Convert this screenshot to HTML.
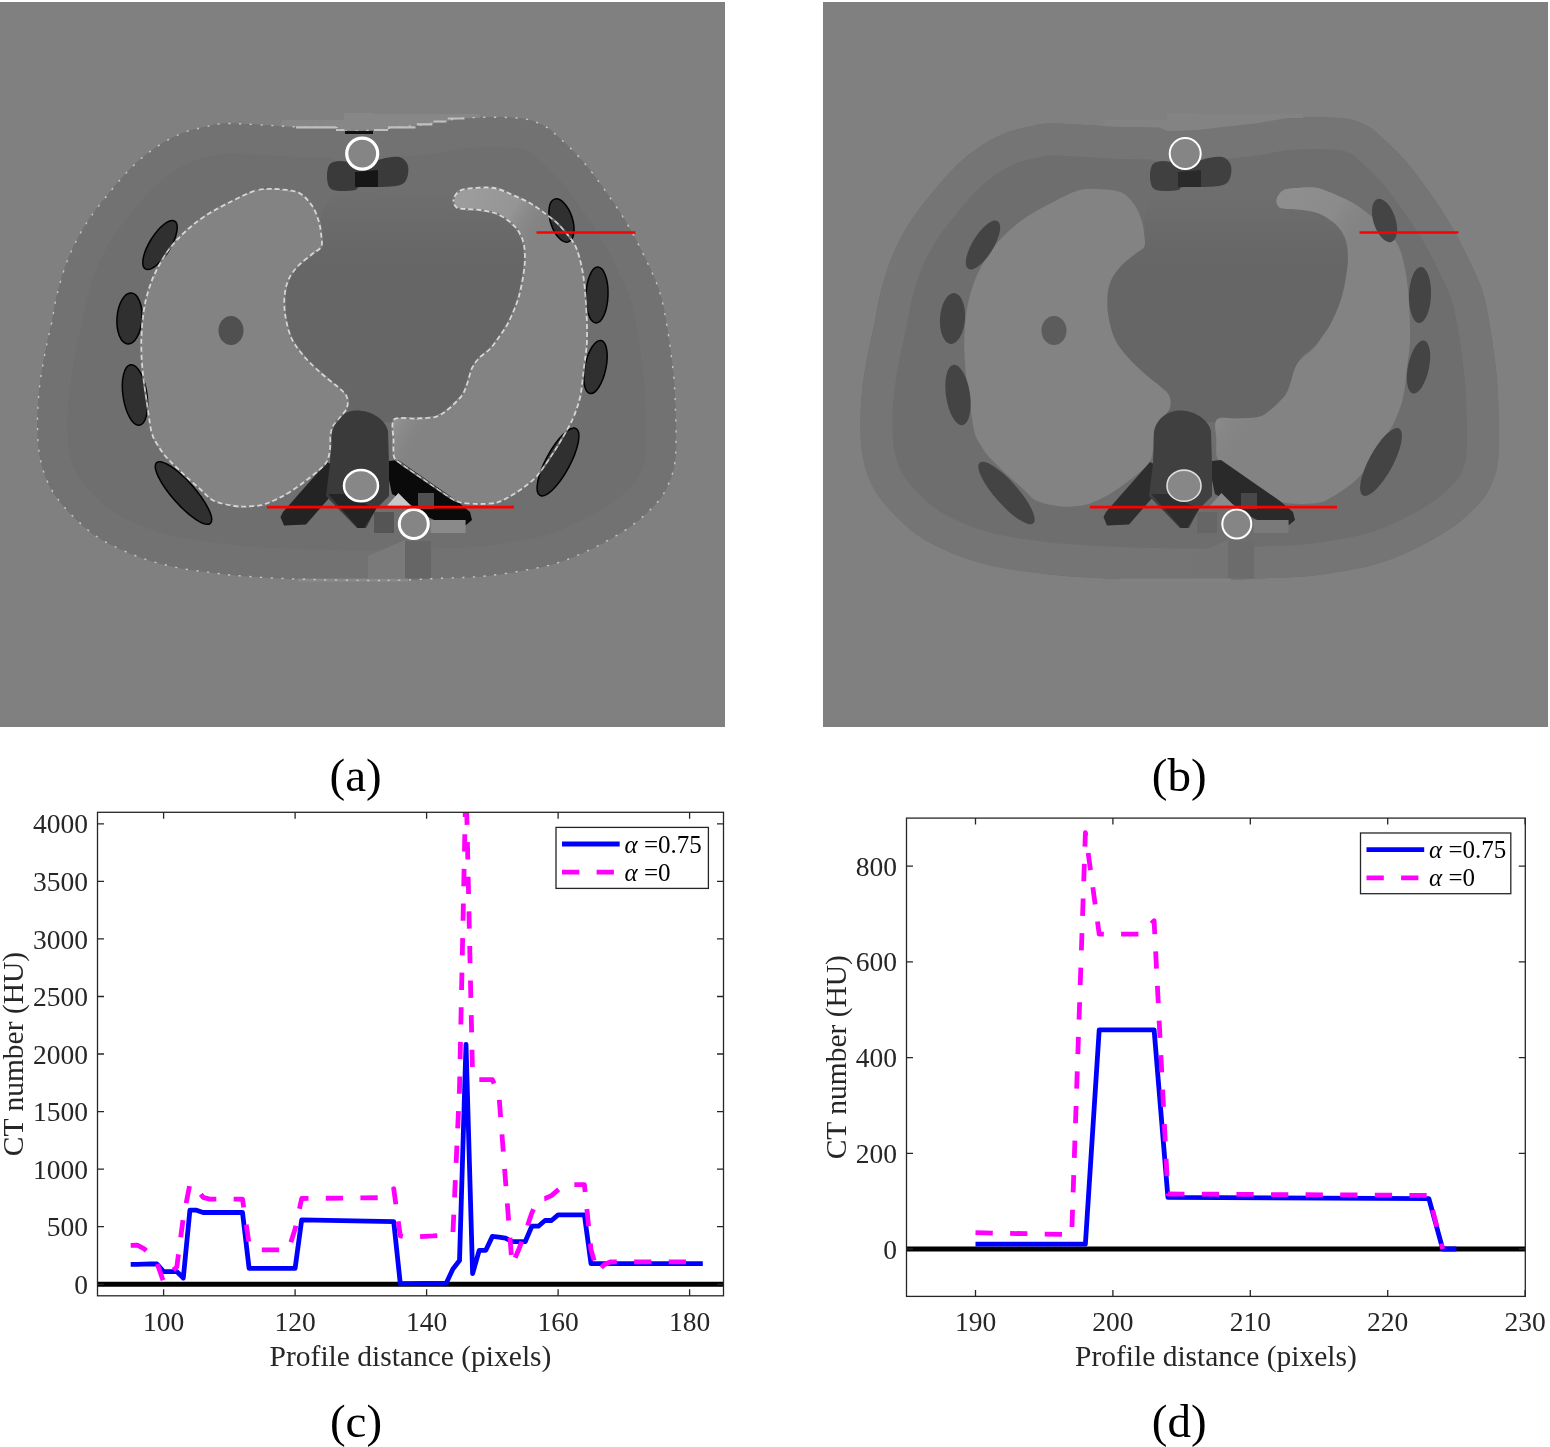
<!DOCTYPE html>
<html><head><meta charset="utf-8"><title>Figure</title>
<style>
html,body{margin:0;padding:0;background:#fff;}
body{width:1550px;height:1447px;overflow:hidden;position:relative;}
svg{position:absolute;left:0;top:0;display:block;}
text{font-family:"Liberation Serif","Times New Roman",serif;fill:#262626;}
.tk{font-size:27.5px;}
.al{font-size:29.5px;}
.lg{font-size:25px;fill:#000;}
.cap{font-size:47px;fill:#000;}
</style></head><body>
<svg width="1550" height="1447" viewBox="0 0 1550 1447">
<defs><clipPath id="bodyclip"><path d="M380,580.5C355.6,580.6 319.4,579.8 296.5,579C273.6,578.2 256.6,577.1 242.3,576C228,574.9 221.9,574.1 210.6,572.6C199.3,571.1 186.5,569.6 174.5,567C162.5,564.4 150.8,561.5 138.4,556.8C126,552.1 110.5,545.1 100,538.7C89.5,532.3 82.4,525.2 75.2,518.4C68,511.6 61.9,504.8 57,498C52.1,491.2 48.8,485.4 45.8,477.7C42.8,470 40.4,461.6 39,452C37.6,442.4 37.5,430 37.5,420C37.5,410 38.2,400.3 39,392C39.8,383.7 40.8,377.3 42,370C43.2,362.7 44.4,355.8 46,348C47.6,340.2 49.6,332.5 51.5,323.5C53.4,314.5 54.3,305.1 57.1,294.2C59.9,283.3 63.5,269.9 68.4,258C73.3,246.1 79.3,234.3 86.5,223C93.7,211.7 103.5,199.8 111.3,190.3C119,180.8 125.8,173 133,166C140.2,159 146.4,153.8 154.2,148.5C162,143.2 171.5,137.6 180,134C188.5,130.4 196.7,128.8 205,127C213.3,125.2 215.1,123.5 230,123.5C244.9,123.5 276.5,126.1 294.2,126.8C311.9,127.5 327.5,126.8 336,127.5C344.5,128.2 338.7,130.6 345,131C351.3,131.4 364.8,130.7 374,130C383.2,129.3 390.3,128.1 400,127C409.7,125.9 421.2,125 432,123.5C442.8,122 450.8,118.9 465,118C479.2,117.1 504.2,116.9 517,118C529.8,119.1 534.8,121.4 542,124.8C549.2,128.2 553.2,132.4 560,138.4C566.8,144.4 575.1,152.3 582.6,161C590.1,169.7 597.1,179 605,190.3C612.9,201.6 622.1,214.8 630,228.7C637.9,242.6 647.3,262.2 652.6,273.9C657.9,285.6 659.2,289.7 661.6,298.7C664,307.7 665.8,319.4 667.3,328C668.8,336.6 669.5,341.9 670.6,350.6C671.7,359.3 673.2,370.1 674,380C674.8,389.9 675.2,400 675.5,410C675.8,420 676.2,430.8 676,440C675.8,449.2 675.8,457.5 674.5,465C673.2,472.5 670.9,478.7 668,485C665.1,491.3 663,495.9 657,502.6C651,509.3 642.1,518.1 632.3,525.2C622.5,532.4 610.1,539.5 598.4,545.5C586.7,551.5 573.6,557.3 562.3,561.3C551,565.2 543.4,566.8 530.6,569.2C517.8,571.7 500.2,574.5 485.5,576C470.8,577.5 460.2,577.5 442.6,578.2C425,579 404.4,580.4 380,580.5Z"/></clipPath>
<linearGradient id="hgrad" gradientUnits="userSpaceOnUse" x1="0" y1="186" x2="0" y2="262"><stop offset="0" stop-color="#6f6f6f"/><stop offset="1" stop-color="#666666"/></linearGradient>
<linearGradient id="tipgrada" gradientUnits="userSpaceOnUse" x1="470" y1="195" x2="540" y2="235"><stop offset="0" stop-color="#9c9c9c"/><stop offset="0.55" stop-color="#959595"/><stop offset="1" stop-color="#838383" stop-opacity="0"/></linearGradient>
<linearGradient id="tipgradb" gradientUnits="userSpaceOnUse" x1="470" y1="195" x2="540" y2="235"><stop offset="0" stop-color="#8e8e8e"/><stop offset="0.55" stop-color="#8b8b8b"/><stop offset="1" stop-color="#838383" stop-opacity="0"/></linearGradient>
</defs>
<g transform="translate(0,0)">
<rect x="0" y="2" width="725" height="725" fill="#808080"/>
<path d="M380,580.5C355.6,580.6 319.4,579.8 296.5,579C273.6,578.2 256.6,577.1 242.3,576C228,574.9 221.9,574.1 210.6,572.6C199.3,571.1 186.5,569.6 174.5,567C162.5,564.4 150.8,561.5 138.4,556.8C126,552.1 110.5,545.1 100,538.7C89.5,532.3 82.4,525.2 75.2,518.4C68,511.6 61.9,504.8 57,498C52.1,491.2 48.8,485.4 45.8,477.7C42.8,470 40.4,461.6 39,452C37.6,442.4 37.5,430 37.5,420C37.5,410 38.2,400.3 39,392C39.8,383.7 40.8,377.3 42,370C43.2,362.7 44.4,355.8 46,348C47.6,340.2 49.6,332.5 51.5,323.5C53.4,314.5 54.3,305.1 57.1,294.2C59.9,283.3 63.5,269.9 68.4,258C73.3,246.1 79.3,234.3 86.5,223C93.7,211.7 103.5,199.8 111.3,190.3C119,180.8 125.8,173 133,166C140.2,159 146.4,153.8 154.2,148.5C162,143.2 171.5,137.6 180,134C188.5,130.4 196.7,128.8 205,127C213.3,125.2 215.1,123.5 230,123.5C244.9,123.5 276.5,126.1 294.2,126.8C311.9,127.5 327.5,126.8 336,127.5C344.5,128.2 338.7,130.6 345,131C351.3,131.4 364.8,130.7 374,130C383.2,129.3 390.3,128.1 400,127C409.7,125.9 421.2,125 432,123.5C442.8,122 450.8,118.9 465,118C479.2,117.1 504.2,116.9 517,118C529.8,119.1 534.8,121.4 542,124.8C549.2,128.2 553.2,132.4 560,138.4C566.8,144.4 575.1,152.3 582.6,161C590.1,169.7 597.1,179 605,190.3C612.9,201.6 622.1,214.8 630,228.7C637.9,242.6 647.3,262.2 652.6,273.9C657.9,285.6 659.2,289.7 661.6,298.7C664,307.7 665.8,319.4 667.3,328C668.8,336.6 669.5,341.9 670.6,350.6C671.7,359.3 673.2,370.1 674,380C674.8,389.9 675.2,400 675.5,410C675.8,420 676.2,430.8 676,440C675.8,449.2 675.8,457.5 674.5,465C673.2,472.5 670.9,478.7 668,485C665.1,491.3 663,495.9 657,502.6C651,509.3 642.1,518.1 632.3,525.2C622.5,532.4 610.1,539.5 598.4,545.5C586.7,551.5 573.6,557.3 562.3,561.3C551,565.2 543.4,566.8 530.6,569.2C517.8,571.7 500.2,574.5 485.5,576C470.8,577.5 460.2,577.5 442.6,578.2C425,579 404.4,580.4 380,580.5Z" fill="#6f6f6f"/>
<path d="M380,580.5C355.6,580.6 319.4,579.8 296.5,579C273.6,578.2 256.6,577.1 242.3,576C228,574.9 221.9,574.1 210.6,572.6C199.3,571.1 186.5,569.6 174.5,567C162.5,564.4 150.8,561.5 138.4,556.8C126,552.1 110.5,545.1 100,538.7C89.5,532.3 82.4,525.2 75.2,518.4C68,511.6 61.9,504.8 57,498C52.1,491.2 48.8,485.4 45.8,477.7C42.8,470 40.4,461.6 39,452C37.6,442.4 37.5,430 37.5,420C37.5,410 38.2,400.3 39,392C39.8,383.7 40.8,377.3 42,370C43.2,362.7 44.4,355.8 46,348C47.6,340.2 49.6,332.5 51.5,323.5C53.4,314.5 54.3,305.1 57.1,294.2C59.9,283.3 63.5,269.9 68.4,258C73.3,246.1 79.3,234.3 86.5,223C93.7,211.7 103.5,199.8 111.3,190.3C119,180.8 125.8,173 133,166C140.2,159 146.4,153.8 154.2,148.5C162,143.2 171.5,137.6 180,134C188.5,130.4 196.7,128.8 205,127C213.3,125.2 215.1,123.5 230,123.5C244.9,123.5 276.5,126.1 294.2,126.8C311.9,127.5 327.5,126.8 336,127.5C344.5,128.2 338.7,130.6 345,131C351.3,131.4 364.8,130.7 374,130C383.2,129.3 390.3,128.1 400,127C409.7,125.9 421.2,125 432,123.5C442.8,122 450.8,118.9 465,118C479.2,117.1 504.2,116.9 517,118C529.8,119.1 534.8,121.4 542,124.8C549.2,128.2 553.2,132.4 560,138.4C566.8,144.4 575.1,152.3 582.6,161C590.1,169.7 597.1,179 605,190.3C612.9,201.6 622.1,214.8 630,228.7C637.9,242.6 647.3,262.2 652.6,273.9C657.9,285.6 659.2,289.7 661.6,298.7C664,307.7 665.8,319.4 667.3,328C668.8,336.6 669.5,341.9 670.6,350.6C671.7,359.3 673.2,370.1 674,380C674.8,389.9 675.2,400 675.5,410C675.8,420 676.2,430.8 676,440C675.8,449.2 675.8,457.5 674.5,465C673.2,472.5 670.9,478.7 668,485C665.1,491.3 663,495.9 657,502.6C651,509.3 642.1,518.1 632.3,525.2C622.5,532.4 610.1,539.5 598.4,545.5C586.7,551.5 573.6,557.3 562.3,561.3C551,565.2 543.4,566.8 530.6,569.2C517.8,571.7 500.2,574.5 485.5,576C470.8,577.5 460.2,577.5 442.6,578.2C425,579 404.4,580.4 380,580.5Z" fill="none" stroke="#727272" stroke-width="60" clip-path="url(#bodyclip)"/>
<path d="M282,120 L344,120 L344,113 L374,113 L374,114 L480,114 L480,118 L465,118 L432,123.5 L400,127 L374,130 L345,131 L336,127.5 L294,126.8 L280,126Z" fill="#878787"/>
<path d="M321,235C324.5,227.8 318.7,221.5 321,215C323.3,208.5 328.5,199.8 335,196C341.5,192.2 349.2,192.5 360,192C370.8,191.5 386.7,192.5 400,193C413.3,193.5 430.3,194.2 440,195C449.7,195.8 453,196.3 458,198C463,199.7 463,202.7 470,205C477,207.3 491.7,207.8 500,212C508.3,216.2 515.3,222 520,230C524.7,238 527.3,250 528,260C528.7,270 526.7,280.3 524,290C521.3,299.7 516.8,309.3 512,318C507.2,326.7 501.2,334.7 495,342C488.8,349.3 479.8,354 475,362C470.2,370 470.2,382 466,390C461.8,398 455,405 450,410C445,415 445.3,418 436,420C426.7,422 408.3,421.7 394,422C379.7,422.3 359,425.7 350,422C341,418.3 345.8,407.3 340,400C334.2,392.7 323,386.3 315,378C307,369.7 297.8,361.3 292,350C286.2,338.7 281.3,322.5 280,310C278.7,297.5 280.7,283.7 284,275C287.3,266.3 293.8,264.7 300,258C306.2,251.3 317.5,242.2 321,235Z" fill="url(#hgrad)"/>
<path d="M255.8,190.3C264.4,187.9 271.2,188.8 278.4,189.2C285.5,189.6 293,189.8 298.7,192.6C304.4,195.4 308.9,201.1 312.3,206C315.7,210.9 317.5,217.1 319,222C320.5,226.9 320.9,231.4 321.3,235.5C321.7,239.6 322.8,243.7 321.3,246.8C319.8,249.9 316.2,250.8 312.3,254C308.4,257.2 302.1,261.6 298,266C293.9,270.4 290.2,275.5 288,280.6C285.8,285.7 284.9,290.5 284.5,296.5C284.1,302.5 284.2,309.7 285.5,316.8C286.8,323.9 288.7,332.5 292,339.4C295.3,346.3 300.5,352.2 305.5,358C310.5,363.8 316.6,369.2 322,374C327.4,378.8 333.9,383.3 338,387C342.1,390.7 345,392.5 346.5,396C348,399.5 347.9,404.7 347,408C346.1,411.3 343.3,413 341,416C338.7,419 334.8,422.8 333,426C331.2,429.2 331,431 330.5,435C330,439 330.8,445.3 330,450C329.2,454.7 329,458.7 326,463C323,467.3 318,471.2 312,476C306,480.8 296.2,488 290,492C283.8,496 279.6,497.9 275,500C270.4,502.1 267.1,503.7 262.6,504.8C258.1,505.9 252.7,506.3 248,506.5C243.3,506.7 240,506.9 234.3,506C228.6,505.1 219.3,503.6 213.6,500.8C207.9,498 204.6,493 200,489C195.4,485 190.2,480.4 186,476.6C181.8,472.8 178.5,469.4 175,466C171.5,462.6 168.2,459.7 165.2,456C162.2,452.3 159.3,448.1 157,444C154.7,439.9 153.2,439 151.4,431.7C149.7,424.4 148,410.3 146.5,400C145,389.7 143.4,380 142.5,370C141.6,360 141.1,349.7 141.3,340C141.5,330.3 142.3,320.3 143.5,312C144.7,303.7 146.3,297 148.5,290C150.7,283 152.9,277 156.5,270C160.1,263 164.9,254.7 170,248C175.1,241.3 181.2,235.3 187,230C192.8,224.7 198.4,220.3 205,216C211.6,211.7 218,208.2 226.5,203.9C235,199.6 247.2,192.8 255.8,190.3Z" fill="#838383"/>
<path d="M453.6,199.5C454.3,196.6 456.7,192.2 460.6,190.3C464.5,188.4 471.4,188.2 477,187.8C482.6,187.4 488.6,186.8 494.5,188C500.4,189.2 506.7,192.3 512.6,194.8C518.5,197.3 524.7,200 530,203C535.3,206 539.9,209.7 544.2,212.9C548.5,216.1 552.6,219 556,222C559.4,225 561.2,226.9 564.5,231C567.8,235.1 572.8,240 575.8,246.8C578.8,253.6 580.9,262.2 582.6,271.6C584.3,281 585.3,291.8 586,303.2C586.7,314.6 587.3,329.2 587,340C586.7,350.8 585.1,358.6 584,368C582.9,377.4 582,388.5 580.3,396.5C578.6,404.5 576.2,410.4 574,416C571.8,421.6 570.3,424.2 566.8,430.3C563.3,436.4 558.2,445.3 553.2,452.9C548.2,460.5 542.3,470 537,476C531.7,482 526.4,485.4 521.6,489C516.8,492.6 512.1,495.2 508,497.5C503.9,499.8 501.8,501.5 496.8,502.6C491.8,503.7 484.4,504.1 478,504C471.6,503.9 463.7,503.5 458.4,502C453.1,500.5 451.1,498.2 446,495C440.9,491.8 433.7,486.4 428,482.5C422.3,478.6 416.7,474.8 412,471.5C407.3,468.2 403,465.4 400,463C397,460.6 395.1,460.8 394,457C392.9,453.2 393.5,446.2 393.5,440C393.5,433.8 390.4,423.1 394,419.5C397.6,415.9 408,418.9 415,418.5C422,418.1 430.6,418.1 435.8,416.8C441,415.6 442.6,413.5 446,411C449.4,408.5 453.2,404.8 456,402C458.8,399.2 461.1,397.2 463,394C464.9,390.8 465.9,387.3 467.4,383C468.9,378.7 470.1,372.2 472,368C473.9,363.8 476,361.2 479,358C482,354.8 486.7,352.5 490,349C493.3,345.5 496.2,341 499,337C501.8,333 504.5,329.5 507,325C509.5,320.5 512,314.8 514,310C516,305.2 517.6,301 519,296C520.4,291 521.5,285.7 522.5,280C523.5,274.3 524.5,267.8 524.8,262C525,256.2 525,250 524,245C523,240 521.3,235.8 519,232C516.7,228.2 513.8,225.1 510,222C506.2,218.9 501,215.5 496,213.5C491,211.5 485.2,210.8 480,210C474.8,209.2 468.9,209.4 465,209C461.1,208.6 458.4,209.1 456.5,207.5C454.6,205.9 452.9,202.4 453.6,199.5Z" fill="#838383"/>
<path d="M453.6,199.5C454.3,196.6 456.7,192.2 460.6,190.3C464.5,188.4 471.4,188.2 477,187.8C482.6,187.4 488.6,186.8 494.5,188C500.4,189.2 506.7,192.3 512.6,194.8C518.5,197.3 524.7,200 530,203C535.3,206 539.9,209.7 544.2,212.9C548.5,216.1 552.6,219 556,222C559.4,225 561.2,226.9 564.5,231C567.8,235.1 572.8,240 575.8,246.8C578.8,253.6 580.9,262.2 582.6,271.6C584.3,281 585.3,291.8 586,303.2C586.7,314.6 587.3,329.2 587,340C586.7,350.8 585.1,358.6 584,368C582.9,377.4 582,388.5 580.3,396.5C578.6,404.5 576.2,410.4 574,416C571.8,421.6 570.3,424.2 566.8,430.3C563.3,436.4 558.2,445.3 553.2,452.9C548.2,460.5 542.3,470 537,476C531.7,482 526.4,485.4 521.6,489C516.8,492.6 512.1,495.2 508,497.5C503.9,499.8 501.8,501.5 496.8,502.6C491.8,503.7 484.4,504.1 478,504C471.6,503.9 463.7,503.5 458.4,502C453.1,500.5 451.1,498.2 446,495C440.9,491.8 433.7,486.4 428,482.5C422.3,478.6 416.7,474.8 412,471.5C407.3,468.2 403,465.4 400,463C397,460.6 395.1,460.8 394,457C392.9,453.2 393.5,446.2 393.5,440C393.5,433.8 390.4,423.1 394,419.5C397.6,415.9 408,418.9 415,418.5C422,418.1 430.6,418.1 435.8,416.8C441,415.6 442.6,413.5 446,411C449.4,408.5 453.2,404.8 456,402C458.8,399.2 461.1,397.2 463,394C464.9,390.8 465.9,387.3 467.4,383C468.9,378.7 470.1,372.2 472,368C473.9,363.8 476,361.2 479,358C482,354.8 486.7,352.5 490,349C493.3,345.5 496.2,341 499,337C501.8,333 504.5,329.5 507,325C509.5,320.5 512,314.8 514,310C516,305.2 517.6,301 519,296C520.4,291 521.5,285.7 522.5,280C523.5,274.3 524.5,267.8 524.8,262C525,256.2 525,250 524,245C523,240 521.3,235.8 519,232C516.7,228.2 513.8,225.1 510,222C506.2,218.9 501,215.5 496,213.5C491,211.5 485.2,210.8 480,210C474.8,209.2 468.9,209.4 465,209C461.1,208.6 458.4,209.1 456.5,207.5C454.6,205.9 452.9,202.4 453.6,199.5Z" fill="url(#tipgrada)"/>
<ellipse cx="231" cy="330.5" rx="12.5" ry="14.5" fill="#505050"/>
<ellipse cx="160" cy="245" rx="10.5" ry="28" transform="rotate(31.6 160 245)" fill="#303030" stroke="#000" stroke-width="1.5"/>
<ellipse cx="129.5" cy="318.5" rx="12.5" ry="25.5" transform="rotate(4 129.5 318.5)" fill="#303030" stroke="#000" stroke-width="1.5"/>
<ellipse cx="135" cy="395" rx="12" ry="30.5" transform="rotate(-8.4 135 395)" fill="#303030" stroke="#000" stroke-width="1.5"/>
<ellipse cx="183.5" cy="493" rx="11.5" ry="40.5" transform="rotate(-41.5 183.5 493)" fill="#303030" stroke="#000" stroke-width="1.5"/>
<ellipse cx="561.5" cy="220.5" rx="11" ry="22.5" transform="rotate(-18 561.5 220.5)" fill="#303030" stroke="#000" stroke-width="1.5"/>
<ellipse cx="597" cy="295" rx="11" ry="28" transform="rotate(2 597 295)" fill="#303030" stroke="#000" stroke-width="1.5"/>
<ellipse cx="595.5" cy="367" rx="10.5" ry="27" transform="rotate(12 595.5 367)" fill="#303030" stroke="#000" stroke-width="1.5"/>
<ellipse cx="558" cy="462" rx="12" ry="38" transform="rotate(28.4 558 462)" fill="#303030" stroke="#000" stroke-width="1.5"/>
<path d="M327,176C327,172 327.8,166.5 330,164C332.2,161.5 336.3,161.2 340,161C343.7,160.8 348.7,162.3 352,163C355.3,163.7 355.7,165.5 360,165C364.3,164.5 372.7,161.3 378,160C383.3,158.7 388,157.3 392,157C396,156.7 399.3,156.5 402,158C404.7,159.5 407.2,162.7 408,166C408.8,169.3 408.3,174.8 407,178C405.7,181.2 404.5,183.5 400,185C395.5,186.5 386.7,186.7 380,187C373.3,187.3 364.2,186.5 360,187C355.8,187.5 358.3,189.3 355,190C351.7,190.7 344.2,191.3 340,191C335.8,190.7 332.2,190.5 330,188C327.8,185.5 327,180 327,176Z" fill="#3a3a3a"/>
<path d="M355,172 L378,170 L378,187 L355,187Z" fill="#161616"/>
<circle cx="362.2" cy="153.6" r="15.5" fill="#858585" stroke="#fff" stroke-width="3.2"/>
<path d="M280.5,517 L283,512 L327,462 L335,466 L337,489 L306,524.5 L284,525.5Z" fill="#232323"/>
<path d="M389,461 L398,460 L457,501 L470,512 L472,520 L466,525 L446,525.5 L430,518 L408,503 L392,494 L389,480Z" fill="#0a0a0a"/>
<path d="M331,433 C332,421 343,410.6 357,410.6 C371,410.6 385,419 388,431 L389,464 L389,496 L376,509 L366,528 L357,528 L326,496 L330,464Z" fill="#3a3a3a"/>
<path d="M328.3,494 L346,494 L376,509 L364,528 L358,528Z" fill="#242424"/>
<path d="M398.4,493 L411,505.8 L387,505.8Z" fill="#c8c8c8"/>
<path d="M418,493 L434,493 L434,509 L418,509Z" fill="#505050"/>
<ellipse cx="361" cy="485.7" rx="17" ry="15.6" fill="#878787" stroke="#fff" stroke-width="2.5"/>
<rect x="374" y="512" width="20" height="21" fill="#555555"/>
<rect x="405" y="541" width="26" height="37.5" fill="#666666"/>
<path d="M368,556 L405,540 L405,578.5 L368,578.5Z" fill="#7a7a7a"/>
<rect x="430.6" y="520" width="35" height="13" fill="#8a8a8a"/>
<rect x="298" y="578.6" width="110" height="3" fill="#8a8a8a"/>
<circle cx="413.8" cy="524" r="14.5" fill="#858585" stroke="#fff" stroke-width="3"/>
<path d="M380,580.5C355.6,580.6 319.4,579.8 296.5,579C273.6,578.2 256.6,577.1 242.3,576C228,574.9 221.9,574.1 210.6,572.6C199.3,571.1 186.5,569.6 174.5,567C162.5,564.4 150.8,561.5 138.4,556.8C126,552.1 110.5,545.1 100,538.7C89.5,532.3 82.4,525.2 75.2,518.4C68,511.6 61.9,504.8 57,498C52.1,491.2 48.8,485.4 45.8,477.7C42.8,470 40.4,461.6 39,452C37.6,442.4 37.5,430 37.5,420C37.5,410 38.2,400.3 39,392C39.8,383.7 40.8,377.3 42,370C43.2,362.7 44.4,355.8 46,348C47.6,340.2 49.6,332.5 51.5,323.5C53.4,314.5 54.3,305.1 57.1,294.2C59.9,283.3 63.5,269.9 68.4,258C73.3,246.1 79.3,234.3 86.5,223C93.7,211.7 103.5,199.8 111.3,190.3C119,180.8 125.8,173 133,166C140.2,159 146.4,153.8 154.2,148.5C162,143.2 171.5,137.6 180,134C188.5,130.4 196.7,128.8 205,127C213.3,125.2 215.1,123.5 230,123.5C244.9,123.5 276.5,126.1 294.2,126.8C311.9,127.5 327.5,126.8 336,127.5C344.5,128.2 338.7,130.6 345,131C351.3,131.4 364.8,130.7 374,130C383.2,129.3 390.3,128.1 400,127C409.7,125.9 421.2,125 432,123.5C442.8,122 450.8,118.9 465,118C479.2,117.1 504.2,116.9 517,118C529.8,119.1 534.8,121.4 542,124.8C549.2,128.2 553.2,132.4 560,138.4C566.8,144.4 575.1,152.3 582.6,161C590.1,169.7 597.1,179 605,190.3C612.9,201.6 622.1,214.8 630,228.7C637.9,242.6 647.3,262.2 652.6,273.9C657.9,285.6 659.2,289.7 661.6,298.7C664,307.7 665.8,319.4 667.3,328C668.8,336.6 669.5,341.9 670.6,350.6C671.7,359.3 673.2,370.1 674,380C674.8,389.9 675.2,400 675.5,410C675.8,420 676.2,430.8 676,440C675.8,449.2 675.8,457.5 674.5,465C673.2,472.5 670.9,478.7 668,485C665.1,491.3 663,495.9 657,502.6C651,509.3 642.1,518.1 632.3,525.2C622.5,532.4 610.1,539.5 598.4,545.5C586.7,551.5 573.6,557.3 562.3,561.3C551,565.2 543.4,566.8 530.6,569.2C517.8,571.7 500.2,574.5 485.5,576C470.8,577.5 460.2,577.5 442.6,578.2C425,579 404.4,580.4 380,580.5Z" fill="none" stroke="#c4c4c4" stroke-width="1.4" stroke-dasharray="2.2 8.5"/>
<path d="M296,127.3 L336,127.3 M336,130 L344.5,130 M374,130 L388,130 M388,127.3 L415.5,127.3 M416.8,124.4 L432.3,124.4 M433.5,121.5 L446.5,121.5 M447.7,118.5 L464.5,118.5" stroke="#c0c0c0" stroke-width="2.2" fill="none"/>
<path d="M345,132.5 L373,132.5" stroke="#101010" stroke-width="3" fill="none"/>
<path d="M255.8,190.3C264.4,187.9 271.2,188.8 278.4,189.2C285.5,189.6 293,189.8 298.7,192.6C304.4,195.4 308.9,201.1 312.3,206C315.7,210.9 317.5,217.1 319,222C320.5,226.9 320.9,231.4 321.3,235.5C321.7,239.6 322.8,243.7 321.3,246.8C319.8,249.9 316.2,250.8 312.3,254C308.4,257.2 302.1,261.6 298,266C293.9,270.4 290.2,275.5 288,280.6C285.8,285.7 284.9,290.5 284.5,296.5C284.1,302.5 284.2,309.7 285.5,316.8C286.8,323.9 288.7,332.5 292,339.4C295.3,346.3 300.5,352.2 305.5,358C310.5,363.8 316.6,369.2 322,374C327.4,378.8 333.9,383.3 338,387C342.1,390.7 345,392.5 346.5,396C348,399.5 347.9,404.7 347,408C346.1,411.3 343.3,413 341,416C338.7,419 334.8,422.8 333,426C331.2,429.2 331,431 330.5,435C330,439 330.8,445.3 330,450C329.2,454.7 329,458.7 326,463C323,467.3 318,471.2 312,476C306,480.8 296.2,488 290,492C283.8,496 279.6,497.9 275,500C270.4,502.1 267.1,503.7 262.6,504.8C258.1,505.9 252.7,506.3 248,506.5C243.3,506.7 240,506.9 234.3,506C228.6,505.1 219.3,503.6 213.6,500.8C207.9,498 204.6,493 200,489C195.4,485 190.2,480.4 186,476.6C181.8,472.8 178.5,469.4 175,466C171.5,462.6 168.2,459.7 165.2,456C162.2,452.3 159.3,448.1 157,444C154.7,439.9 153.2,439 151.4,431.7C149.7,424.4 148,410.3 146.5,400C145,389.7 143.4,380 142.5,370C141.6,360 141.1,349.7 141.3,340C141.5,330.3 142.3,320.3 143.5,312C144.7,303.7 146.3,297 148.5,290C150.7,283 152.9,277 156.5,270C160.1,263 164.9,254.7 170,248C175.1,241.3 181.2,235.3 187,230C192.8,224.7 198.4,220.3 205,216C211.6,211.7 218,208.2 226.5,203.9C235,199.6 247.2,192.8 255.8,190.3Z" fill="none" stroke="#e6e6e6" stroke-width="1.8" stroke-opacity="0.85"/>
<path d="M255.8,190.3C264.4,187.9 271.2,188.8 278.4,189.2C285.5,189.6 293,189.8 298.7,192.6C304.4,195.4 308.9,201.1 312.3,206C315.7,210.9 317.5,217.1 319,222C320.5,226.9 320.9,231.4 321.3,235.5C321.7,239.6 322.8,243.7 321.3,246.8C319.8,249.9 316.2,250.8 312.3,254C308.4,257.2 302.1,261.6 298,266C293.9,270.4 290.2,275.5 288,280.6C285.8,285.7 284.9,290.5 284.5,296.5C284.1,302.5 284.2,309.7 285.5,316.8C286.8,323.9 288.7,332.5 292,339.4C295.3,346.3 300.5,352.2 305.5,358C310.5,363.8 316.6,369.2 322,374C327.4,378.8 333.9,383.3 338,387C342.1,390.7 345,392.5 346.5,396C348,399.5 347.9,404.7 347,408C346.1,411.3 343.3,413 341,416C338.7,419 334.8,422.8 333,426C331.2,429.2 331,431 330.5,435C330,439 330.8,445.3 330,450C329.2,454.7 329,458.7 326,463C323,467.3 318,471.2 312,476C306,480.8 296.2,488 290,492C283.8,496 279.6,497.9 275,500C270.4,502.1 267.1,503.7 262.6,504.8C258.1,505.9 252.7,506.3 248,506.5C243.3,506.7 240,506.9 234.3,506C228.6,505.1 219.3,503.6 213.6,500.8C207.9,498 204.6,493 200,489C195.4,485 190.2,480.4 186,476.6C181.8,472.8 178.5,469.4 175,466C171.5,462.6 168.2,459.7 165.2,456C162.2,452.3 159.3,448.1 157,444C154.7,439.9 153.2,439 151.4,431.7C149.7,424.4 148,410.3 146.5,400C145,389.7 143.4,380 142.5,370C141.6,360 141.1,349.7 141.3,340C141.5,330.3 142.3,320.3 143.5,312C144.7,303.7 146.3,297 148.5,290C150.7,283 152.9,277 156.5,270C160.1,263 164.9,254.7 170,248C175.1,241.3 181.2,235.3 187,230C192.8,224.7 198.4,220.3 205,216C211.6,211.7 218,208.2 226.5,203.9C235,199.6 247.2,192.8 255.8,190.3Z" fill="none" stroke="#2a2a2a" stroke-width="1.8" stroke-dasharray="3 5" stroke-opacity="0.55"/>
<path d="M453.6,199.5C454.3,196.6 456.7,192.2 460.6,190.3C464.5,188.4 471.4,188.2 477,187.8C482.6,187.4 488.6,186.8 494.5,188C500.4,189.2 506.7,192.3 512.6,194.8C518.5,197.3 524.7,200 530,203C535.3,206 539.9,209.7 544.2,212.9C548.5,216.1 552.6,219 556,222C559.4,225 561.2,226.9 564.5,231C567.8,235.1 572.8,240 575.8,246.8C578.8,253.6 580.9,262.2 582.6,271.6C584.3,281 585.3,291.8 586,303.2C586.7,314.6 587.3,329.2 587,340C586.7,350.8 585.1,358.6 584,368C582.9,377.4 582,388.5 580.3,396.5C578.6,404.5 576.2,410.4 574,416C571.8,421.6 570.3,424.2 566.8,430.3C563.3,436.4 558.2,445.3 553.2,452.9C548.2,460.5 542.3,470 537,476C531.7,482 526.4,485.4 521.6,489C516.8,492.6 512.1,495.2 508,497.5C503.9,499.8 501.8,501.5 496.8,502.6C491.8,503.7 484.4,504.1 478,504C471.6,503.9 463.7,503.5 458.4,502C453.1,500.5 451.1,498.2 446,495C440.9,491.8 433.7,486.4 428,482.5C422.3,478.6 416.7,474.8 412,471.5C407.3,468.2 403,465.4 400,463C397,460.6 395.1,460.8 394,457C392.9,453.2 393.5,446.2 393.5,440C393.5,433.8 390.4,423.1 394,419.5C397.6,415.9 408,418.9 415,418.5C422,418.1 430.6,418.1 435.8,416.8C441,415.6 442.6,413.5 446,411C449.4,408.5 453.2,404.8 456,402C458.8,399.2 461.1,397.2 463,394C464.9,390.8 465.9,387.3 467.4,383C468.9,378.7 470.1,372.2 472,368C473.9,363.8 476,361.2 479,358C482,354.8 486.7,352.5 490,349C493.3,345.5 496.2,341 499,337C501.8,333 504.5,329.5 507,325C509.5,320.5 512,314.8 514,310C516,305.2 517.6,301 519,296C520.4,291 521.5,285.7 522.5,280C523.5,274.3 524.5,267.8 524.8,262C525,256.2 525,250 524,245C523,240 521.3,235.8 519,232C516.7,228.2 513.8,225.1 510,222C506.2,218.9 501,215.5 496,213.5C491,211.5 485.2,210.8 480,210C474.8,209.2 468.9,209.4 465,209C461.1,208.6 458.4,209.1 456.5,207.5C454.6,205.9 452.9,202.4 453.6,199.5Z" fill="none" stroke="#e6e6e6" stroke-width="1.8" stroke-opacity="0.85"/>
<path d="M453.6,199.5C454.3,196.6 456.7,192.2 460.6,190.3C464.5,188.4 471.4,188.2 477,187.8C482.6,187.4 488.6,186.8 494.5,188C500.4,189.2 506.7,192.3 512.6,194.8C518.5,197.3 524.7,200 530,203C535.3,206 539.9,209.7 544.2,212.9C548.5,216.1 552.6,219 556,222C559.4,225 561.2,226.9 564.5,231C567.8,235.1 572.8,240 575.8,246.8C578.8,253.6 580.9,262.2 582.6,271.6C584.3,281 585.3,291.8 586,303.2C586.7,314.6 587.3,329.2 587,340C586.7,350.8 585.1,358.6 584,368C582.9,377.4 582,388.5 580.3,396.5C578.6,404.5 576.2,410.4 574,416C571.8,421.6 570.3,424.2 566.8,430.3C563.3,436.4 558.2,445.3 553.2,452.9C548.2,460.5 542.3,470 537,476C531.7,482 526.4,485.4 521.6,489C516.8,492.6 512.1,495.2 508,497.5C503.9,499.8 501.8,501.5 496.8,502.6C491.8,503.7 484.4,504.1 478,504C471.6,503.9 463.7,503.5 458.4,502C453.1,500.5 451.1,498.2 446,495C440.9,491.8 433.7,486.4 428,482.5C422.3,478.6 416.7,474.8 412,471.5C407.3,468.2 403,465.4 400,463C397,460.6 395.1,460.8 394,457C392.9,453.2 393.5,446.2 393.5,440C393.5,433.8 390.4,423.1 394,419.5C397.6,415.9 408,418.9 415,418.5C422,418.1 430.6,418.1 435.8,416.8C441,415.6 442.6,413.5 446,411C449.4,408.5 453.2,404.8 456,402C458.8,399.2 461.1,397.2 463,394C464.9,390.8 465.9,387.3 467.4,383C468.9,378.7 470.1,372.2 472,368C473.9,363.8 476,361.2 479,358C482,354.8 486.7,352.5 490,349C493.3,345.5 496.2,341 499,337C501.8,333 504.5,329.5 507,325C509.5,320.5 512,314.8 514,310C516,305.2 517.6,301 519,296C520.4,291 521.5,285.7 522.5,280C523.5,274.3 524.5,267.8 524.8,262C525,256.2 525,250 524,245C523,240 521.3,235.8 519,232C516.7,228.2 513.8,225.1 510,222C506.2,218.9 501,215.5 496,213.5C491,211.5 485.2,210.8 480,210C474.8,209.2 468.9,209.4 465,209C461.1,208.6 458.4,209.1 456.5,207.5C454.6,205.9 452.9,202.4 453.6,199.5Z" fill="none" stroke="#2a2a2a" stroke-width="1.8" stroke-dasharray="3 5" stroke-opacity="0.55"/>
<line x1="536.5" y1="232.5" x2="635.5" y2="232.5" stroke="#ff0000" stroke-width="2.6"/>
<line x1="267" y1="507.1" x2="514" y2="507.1" stroke="#ff0000" stroke-width="2.6"/>
</g>
<g transform="translate(823,0)">
<rect x="0" y="2" width="725" height="725" fill="#808080"/>
<path d="M380,580.5C355.6,580.6 319.4,579.8 296.5,579C273.6,578.2 256.6,577.1 242.3,576C228,574.9 221.9,574.1 210.6,572.6C199.3,571.1 186.5,569.6 174.5,567C162.5,564.4 150.8,561.5 138.4,556.8C126,552.1 110.5,545.1 100,538.7C89.5,532.3 82.4,525.2 75.2,518.4C68,511.6 61.9,504.8 57,498C52.1,491.2 48.8,485.4 45.8,477.7C42.8,470 40.4,461.6 39,452C37.6,442.4 37.5,430 37.5,420C37.5,410 38.2,400.3 39,392C39.8,383.7 40.8,377.3 42,370C43.2,362.7 44.4,355.8 46,348C47.6,340.2 49.6,332.5 51.5,323.5C53.4,314.5 54.3,305.1 57.1,294.2C59.9,283.3 63.5,269.9 68.4,258C73.3,246.1 79.3,234.3 86.5,223C93.7,211.7 103.5,199.8 111.3,190.3C119,180.8 125.8,173 133,166C140.2,159 146.4,153.8 154.2,148.5C162,143.2 171.5,137.6 180,134C188.5,130.4 196.7,128.8 205,127C213.3,125.2 215.1,123.5 230,123.5C244.9,123.5 276.5,126.1 294.2,126.8C311.9,127.5 327.5,126.8 336,127.5C344.5,128.2 338.7,130.6 345,131C351.3,131.4 364.8,130.7 374,130C383.2,129.3 390.3,128.1 400,127C409.7,125.9 421.2,125 432,123.5C442.8,122 450.8,118.9 465,118C479.2,117.1 504.2,116.9 517,118C529.8,119.1 534.8,121.4 542,124.8C549.2,128.2 553.2,132.4 560,138.4C566.8,144.4 575.1,152.3 582.6,161C590.1,169.7 597.1,179 605,190.3C612.9,201.6 622.1,214.8 630,228.7C637.9,242.6 647.3,262.2 652.6,273.9C657.9,285.6 659.2,289.7 661.6,298.7C664,307.7 665.8,319.4 667.3,328C668.8,336.6 669.5,341.9 670.6,350.6C671.7,359.3 673.2,370.1 674,380C674.8,389.9 675.2,400 675.5,410C675.8,420 676.2,430.8 676,440C675.8,449.2 675.8,457.5 674.5,465C673.2,472.5 670.9,478.7 668,485C665.1,491.3 663,495.9 657,502.6C651,509.3 642.1,518.1 632.3,525.2C622.5,532.4 610.1,539.5 598.4,545.5C586.7,551.5 573.6,557.3 562.3,561.3C551,565.2 543.4,566.8 530.6,569.2C517.8,571.7 500.2,574.5 485.5,576C470.8,577.5 460.2,577.5 442.6,578.2C425,579 404.4,580.4 380,580.5Z" fill="#6e6e6e"/>
<path d="M380,580.5C355.6,580.6 319.4,579.8 296.5,579C273.6,578.2 256.6,577.1 242.3,576C228,574.9 221.9,574.1 210.6,572.6C199.3,571.1 186.5,569.6 174.5,567C162.5,564.4 150.8,561.5 138.4,556.8C126,552.1 110.5,545.1 100,538.7C89.5,532.3 82.4,525.2 75.2,518.4C68,511.6 61.9,504.8 57,498C52.1,491.2 48.8,485.4 45.8,477.7C42.8,470 40.4,461.6 39,452C37.6,442.4 37.5,430 37.5,420C37.5,410 38.2,400.3 39,392C39.8,383.7 40.8,377.3 42,370C43.2,362.7 44.4,355.8 46,348C47.6,340.2 49.6,332.5 51.5,323.5C53.4,314.5 54.3,305.1 57.1,294.2C59.9,283.3 63.5,269.9 68.4,258C73.3,246.1 79.3,234.3 86.5,223C93.7,211.7 103.5,199.8 111.3,190.3C119,180.8 125.8,173 133,166C140.2,159 146.4,153.8 154.2,148.5C162,143.2 171.5,137.6 180,134C188.5,130.4 196.7,128.8 205,127C213.3,125.2 215.1,123.5 230,123.5C244.9,123.5 276.5,126.1 294.2,126.8C311.9,127.5 327.5,126.8 336,127.5C344.5,128.2 338.7,130.6 345,131C351.3,131.4 364.8,130.7 374,130C383.2,129.3 390.3,128.1 400,127C409.7,125.9 421.2,125 432,123.5C442.8,122 450.8,118.9 465,118C479.2,117.1 504.2,116.9 517,118C529.8,119.1 534.8,121.4 542,124.8C549.2,128.2 553.2,132.4 560,138.4C566.8,144.4 575.1,152.3 582.6,161C590.1,169.7 597.1,179 605,190.3C612.9,201.6 622.1,214.8 630,228.7C637.9,242.6 647.3,262.2 652.6,273.9C657.9,285.6 659.2,289.7 661.6,298.7C664,307.7 665.8,319.4 667.3,328C668.8,336.6 669.5,341.9 670.6,350.6C671.7,359.3 673.2,370.1 674,380C674.8,389.9 675.2,400 675.5,410C675.8,420 676.2,430.8 676,440C675.8,449.2 675.8,457.5 674.5,465C673.2,472.5 670.9,478.7 668,485C665.1,491.3 663,495.9 657,502.6C651,509.3 642.1,518.1 632.3,525.2C622.5,532.4 610.1,539.5 598.4,545.5C586.7,551.5 573.6,557.3 562.3,561.3C551,565.2 543.4,566.8 530.6,569.2C517.8,571.7 500.2,574.5 485.5,576C470.8,577.5 460.2,577.5 442.6,578.2C425,579 404.4,580.4 380,580.5Z" fill="none" stroke="#757575" stroke-width="64" clip-path="url(#bodyclip)"/>
<path d="M282,120 L344,120 L344,113 L374,113 L374,114 L480,114 L480,118 L465,118 L432,123.5 L400,127 L374,130 L345,131 L336,127.5 L294,126.8 L280,126Z" fill="#838383"/>
<path d="M321,235C324.5,227.8 318.7,221.5 321,215C323.3,208.5 328.5,199.8 335,196C341.5,192.2 349.2,192.5 360,192C370.8,191.5 386.7,192.5 400,193C413.3,193.5 430.3,194.2 440,195C449.7,195.8 453,196.3 458,198C463,199.7 463,202.7 470,205C477,207.3 491.7,207.8 500,212C508.3,216.2 515.3,222 520,230C524.7,238 527.3,250 528,260C528.7,270 526.7,280.3 524,290C521.3,299.7 516.8,309.3 512,318C507.2,326.7 501.2,334.7 495,342C488.8,349.3 479.8,354 475,362C470.2,370 470.2,382 466,390C461.8,398 455,405 450,410C445,415 445.3,418 436,420C426.7,422 408.3,421.7 394,422C379.7,422.3 359,425.7 350,422C341,418.3 345.8,407.3 340,400C334.2,392.7 323,386.3 315,378C307,369.7 297.8,361.3 292,350C286.2,338.7 281.3,322.5 280,310C278.7,297.5 280.7,283.7 284,275C287.3,266.3 293.8,264.7 300,258C306.2,251.3 317.5,242.2 321,235Z" fill="url(#hgrad)"/>
<path d="M255.8,190.3C264.4,187.9 271.2,188.8 278.4,189.2C285.5,189.6 293,189.8 298.7,192.6C304.4,195.4 308.9,201.1 312.3,206C315.7,210.9 317.5,217.1 319,222C320.5,226.9 320.9,231.4 321.3,235.5C321.7,239.6 322.8,243.7 321.3,246.8C319.8,249.9 316.2,250.8 312.3,254C308.4,257.2 302.1,261.6 298,266C293.9,270.4 290.2,275.5 288,280.6C285.8,285.7 284.9,290.5 284.5,296.5C284.1,302.5 284.2,309.7 285.5,316.8C286.8,323.9 288.7,332.5 292,339.4C295.3,346.3 300.5,352.2 305.5,358C310.5,363.8 316.6,369.2 322,374C327.4,378.8 333.9,383.3 338,387C342.1,390.7 345,392.5 346.5,396C348,399.5 347.9,404.7 347,408C346.1,411.3 343.3,413 341,416C338.7,419 334.8,422.8 333,426C331.2,429.2 331,431 330.5,435C330,439 330.8,445.3 330,450C329.2,454.7 329,458.7 326,463C323,467.3 318,471.2 312,476C306,480.8 296.2,488 290,492C283.8,496 279.6,497.9 275,500C270.4,502.1 267.1,503.7 262.6,504.8C258.1,505.9 252.7,506.3 248,506.5C243.3,506.7 240,506.9 234.3,506C228.6,505.1 219.3,503.6 213.6,500.8C207.9,498 204.6,493 200,489C195.4,485 190.2,480.4 186,476.6C181.8,472.8 178.5,469.4 175,466C171.5,462.6 168.2,459.7 165.2,456C162.2,452.3 159.3,448.1 157,444C154.7,439.9 153.2,439 151.4,431.7C149.7,424.4 148,410.3 146.5,400C145,389.7 143.4,380 142.5,370C141.6,360 141.1,349.7 141.3,340C141.5,330.3 142.3,320.3 143.5,312C144.7,303.7 146.3,297 148.5,290C150.7,283 152.9,277 156.5,270C160.1,263 164.9,254.7 170,248C175.1,241.3 181.2,235.3 187,230C192.8,224.7 198.4,220.3 205,216C211.6,211.7 218,208.2 226.5,203.9C235,199.6 247.2,192.8 255.8,190.3Z" fill="#838383"/>
<path d="M453.6,199.5C454.3,196.6 456.7,192.2 460.6,190.3C464.5,188.4 471.4,188.2 477,187.8C482.6,187.4 488.6,186.8 494.5,188C500.4,189.2 506.7,192.3 512.6,194.8C518.5,197.3 524.7,200 530,203C535.3,206 539.9,209.7 544.2,212.9C548.5,216.1 552.6,219 556,222C559.4,225 561.2,226.9 564.5,231C567.8,235.1 572.8,240 575.8,246.8C578.8,253.6 580.9,262.2 582.6,271.6C584.3,281 585.3,291.8 586,303.2C586.7,314.6 587.3,329.2 587,340C586.7,350.8 585.1,358.6 584,368C582.9,377.4 582,388.5 580.3,396.5C578.6,404.5 576.2,410.4 574,416C571.8,421.6 570.3,424.2 566.8,430.3C563.3,436.4 558.2,445.3 553.2,452.9C548.2,460.5 542.3,470 537,476C531.7,482 526.4,485.4 521.6,489C516.8,492.6 512.1,495.2 508,497.5C503.9,499.8 501.8,501.5 496.8,502.6C491.8,503.7 484.4,504.1 478,504C471.6,503.9 463.7,503.5 458.4,502C453.1,500.5 451.1,498.2 446,495C440.9,491.8 433.7,486.4 428,482.5C422.3,478.6 416.7,474.8 412,471.5C407.3,468.2 403,465.4 400,463C397,460.6 395.1,460.8 394,457C392.9,453.2 393.5,446.2 393.5,440C393.5,433.8 390.4,423.1 394,419.5C397.6,415.9 408,418.9 415,418.5C422,418.1 430.6,418.1 435.8,416.8C441,415.6 442.6,413.5 446,411C449.4,408.5 453.2,404.8 456,402C458.8,399.2 461.1,397.2 463,394C464.9,390.8 465.9,387.3 467.4,383C468.9,378.7 470.1,372.2 472,368C473.9,363.8 476,361.2 479,358C482,354.8 486.7,352.5 490,349C493.3,345.5 496.2,341 499,337C501.8,333 504.5,329.5 507,325C509.5,320.5 512,314.8 514,310C516,305.2 517.6,301 519,296C520.4,291 521.5,285.7 522.5,280C523.5,274.3 524.5,267.8 524.8,262C525,256.2 525,250 524,245C523,240 521.3,235.8 519,232C516.7,228.2 513.8,225.1 510,222C506.2,218.9 501,215.5 496,213.5C491,211.5 485.2,210.8 480,210C474.8,209.2 468.9,209.4 465,209C461.1,208.6 458.4,209.1 456.5,207.5C454.6,205.9 452.9,202.4 453.6,199.5Z" fill="#838383"/>
<path d="M453.6,199.5C454.3,196.6 456.7,192.2 460.6,190.3C464.5,188.4 471.4,188.2 477,187.8C482.6,187.4 488.6,186.8 494.5,188C500.4,189.2 506.7,192.3 512.6,194.8C518.5,197.3 524.7,200 530,203C535.3,206 539.9,209.7 544.2,212.9C548.5,216.1 552.6,219 556,222C559.4,225 561.2,226.9 564.5,231C567.8,235.1 572.8,240 575.8,246.8C578.8,253.6 580.9,262.2 582.6,271.6C584.3,281 585.3,291.8 586,303.2C586.7,314.6 587.3,329.2 587,340C586.7,350.8 585.1,358.6 584,368C582.9,377.4 582,388.5 580.3,396.5C578.6,404.5 576.2,410.4 574,416C571.8,421.6 570.3,424.2 566.8,430.3C563.3,436.4 558.2,445.3 553.2,452.9C548.2,460.5 542.3,470 537,476C531.7,482 526.4,485.4 521.6,489C516.8,492.6 512.1,495.2 508,497.5C503.9,499.8 501.8,501.5 496.8,502.6C491.8,503.7 484.4,504.1 478,504C471.6,503.9 463.7,503.5 458.4,502C453.1,500.5 451.1,498.2 446,495C440.9,491.8 433.7,486.4 428,482.5C422.3,478.6 416.7,474.8 412,471.5C407.3,468.2 403,465.4 400,463C397,460.6 395.1,460.8 394,457C392.9,453.2 393.5,446.2 393.5,440C393.5,433.8 390.4,423.1 394,419.5C397.6,415.9 408,418.9 415,418.5C422,418.1 430.6,418.1 435.8,416.8C441,415.6 442.6,413.5 446,411C449.4,408.5 453.2,404.8 456,402C458.8,399.2 461.1,397.2 463,394C464.9,390.8 465.9,387.3 467.4,383C468.9,378.7 470.1,372.2 472,368C473.9,363.8 476,361.2 479,358C482,354.8 486.7,352.5 490,349C493.3,345.5 496.2,341 499,337C501.8,333 504.5,329.5 507,325C509.5,320.5 512,314.8 514,310C516,305.2 517.6,301 519,296C520.4,291 521.5,285.7 522.5,280C523.5,274.3 524.5,267.8 524.8,262C525,256.2 525,250 524,245C523,240 521.3,235.8 519,232C516.7,228.2 513.8,225.1 510,222C506.2,218.9 501,215.5 496,213.5C491,211.5 485.2,210.8 480,210C474.8,209.2 468.9,209.4 465,209C461.1,208.6 458.4,209.1 456.5,207.5C454.6,205.9 452.9,202.4 453.6,199.5Z" fill="url(#tipgradb)"/>
<ellipse cx="231" cy="330.5" rx="12.5" ry="14.5" fill="#5c5c5c"/>
<ellipse cx="160" cy="245" rx="10.5" ry="28" transform="rotate(31.6 160 245)" fill="#444444"/>
<ellipse cx="129.5" cy="318.5" rx="12.5" ry="25.5" transform="rotate(4 129.5 318.5)" fill="#444444"/>
<ellipse cx="135" cy="395" rx="12" ry="30.5" transform="rotate(-8.4 135 395)" fill="#444444"/>
<ellipse cx="183.5" cy="493" rx="11.5" ry="40.5" transform="rotate(-41.5 183.5 493)" fill="#444444"/>
<ellipse cx="561.5" cy="220.5" rx="11" ry="22.5" transform="rotate(-18 561.5 220.5)" fill="#444444"/>
<ellipse cx="597" cy="295" rx="11" ry="28" transform="rotate(2 597 295)" fill="#444444"/>
<ellipse cx="595.5" cy="367" rx="10.5" ry="27" transform="rotate(12 595.5 367)" fill="#444444"/>
<ellipse cx="558" cy="462" rx="12" ry="38" transform="rotate(28.4 558 462)" fill="#444444"/>
<path d="M327,176C327,172 327.8,166.5 330,164C332.2,161.5 336.3,161.2 340,161C343.7,160.8 348.7,162.3 352,163C355.3,163.7 355.7,165.5 360,165C364.3,164.5 372.7,161.3 378,160C383.3,158.7 388,157.3 392,157C396,156.7 399.3,156.5 402,158C404.7,159.5 407.2,162.7 408,166C408.8,169.3 408.3,174.8 407,178C405.7,181.2 404.5,183.5 400,185C395.5,186.5 386.7,186.7 380,187C373.3,187.3 364.2,186.5 360,187C355.8,187.5 358.3,189.3 355,190C351.7,190.7 344.2,191.3 340,191C335.8,190.7 332.2,190.5 330,188C327.8,185.5 327,180 327,176Z" fill="#404040"/>
<path d="M355,172 L378,170 L378,187 L355,187Z" fill="#2a2a2a"/>
<circle cx="362.2" cy="153.6" r="15.5" fill="#858585" stroke="#fff" stroke-width="2"/>
<path d="M280.5,517 L283,512 L327,462 L335,466 L337,489 L306,524.5 L284,525.5Z" fill="#2e2e2e"/>
<path d="M389,461 L398,460 L457,501 L470,512 L472,520 L466,525 L446,525.5 L430,518 L408,503 L392,494 L389,480Z" fill="#2a2a2a"/>
<path d="M331,433 C332,421 343,410.6 357,410.6 C371,410.6 385,419 388,431 L389,464 L389,496 L376,509 L366,528 L357,528 L326,496 L330,464Z" fill="#404040"/>
<path d="M328.3,494 L346,494 L376,509 L364,528 L358,528Z" fill="#2e2e2e"/>
<path d="M398.4,493 L411,505.8 L387,505.8Z" fill="#8a8a8a"/>
<path d="M418,493 L434,493 L434,509 L418,509Z" fill="#484848"/>
<ellipse cx="361" cy="485.7" rx="17" ry="15.6" fill="#878787" stroke="#dddddd" stroke-width="1.6"/>
<rect x="374" y="512" width="20" height="21" fill="#666666"/>
<rect x="405" y="541" width="26" height="37.5" fill="#6c6c6c"/>
<path d="M368,556 L405,540 L405,578.5 L368,578.5Z" fill="#747474"/>
<rect x="430.6" y="520" width="35" height="13" fill="#7a7a7a"/>
<rect x="298" y="578.6" width="110" height="3" fill="#828282"/>
<circle cx="413.8" cy="524" r="14.5" fill="#858585" stroke="#fff" stroke-width="2"/>

<line x1="536.5" y1="232.5" x2="635.5" y2="232.5" stroke="#ff0000" stroke-width="2.6"/>
<line x1="267" y1="507.1" x2="514" y2="507.1" stroke="#ff0000" stroke-width="2.6"/>
</g>
<text x="355.7" y="790.7" text-anchor="middle" class="cap">(a)</text>
<text x="1179.2" y="790.7" text-anchor="middle" class="cap">(b)</text>
<clipPath id="clipc"><rect x="97.5" y="812.3" width="626" height="483.5"/></clipPath>
<line x1="97.5" y1="1284.3" x2="723.5" y2="1284.3" stroke="#000" stroke-width="5"/>
<g clip-path="url(#clipc)">
<polyline points="130.7,1264.3 137.3,1264.3 143.9,1264.2 150.4,1264 157,1264 163.6,1271.6 170.2,1271.6 176.8,1271.6 183.3,1278 189.9,1210.2 196.5,1210.2 203.1,1212.5 242.5,1212.5 249.1,1268.4 295.1,1268.4 301.7,1219.8 393.7,1221.6 400.3,1283.7 446.3,1283.1 452.9,1269 459.5,1260.6 466,1044.3 472.6,1273.7 479.2,1250.3 485.8,1250.3 492.4,1236.4 498.9,1237.1 505.5,1238.2 512.1,1241.7 525.2,1241.7 531.8,1226.2 538.4,1226.2 545,1220.5 551.5,1220.5 558.1,1214.9 584.4,1214.9 591,1263.6 702.8,1263.6" fill="none" stroke="#0000ff" stroke-width="4.8" stroke-linejoin="round"/>
<polyline points="130.7,1245.4 137.3,1245.2 143.9,1248.6 150.4,1254.4 157,1263 163.6,1282 170.2,1272.8 176.8,1267 183.3,1217.5 189.9,1184.1 196.5,1188.2 203.1,1197.4 209.6,1199.1 242.5,1199.1 249.1,1244 255.6,1249.8 288.5,1249.8 295.1,1229 301.7,1198.5 380.6,1197.7 387.1,1194.5 393.7,1188.7 400.3,1235.9 406.9,1237.1 413.4,1237.1 433.2,1235.9 446.3,1234.8 452.9,1233.6 459.5,1088.6 466,777.7 472.6,1077.1 479.2,1079.7 492.4,1079.7 498.9,1094.3 505.5,1180.7 512.1,1264.7 518.6,1249.8 525.2,1232.5 531.8,1212.9 538.4,1198.9 545,1198.5 551.5,1195.6 558.1,1189.9 564.7,1184.7 584.4,1184.7 591,1249.8 597.5,1271.6 604.1,1264.7 610.7,1261.8 702.8,1261.8" fill="none" stroke="#ff00ff" stroke-width="4.8" stroke-linejoin="round" stroke-dasharray="17.3 17.3"/>
</g>
<rect x="97.5" y="812.3" width="626" height="483.5" fill="none" stroke="#262626" stroke-width="1.3"/>
<path d="M163.6,1295.8v-6.5 M163.6,812.3v6.5 M295.1,1295.8v-6.5 M295.1,812.3v6.5 M426.6,1295.8v-6.5 M426.6,812.3v6.5 M558.1,1295.8v-6.5 M558.1,812.3v6.5 M689.6,1295.8v-6.5 M689.6,812.3v6.5 M97.5,1284.3h6.5 M723.5,1284.3h-6.5 M97.5,1226.7h6.5 M723.5,1226.7h-6.5 M97.5,1169.2h6.5 M723.5,1169.2h-6.5 M97.5,1111.6h6.5 M723.5,1111.6h-6.5 M97.5,1054h6.5 M723.5,1054h-6.5 M97.5,996.5h6.5 M723.5,996.5h-6.5 M97.5,938.9h6.5 M723.5,938.9h-6.5 M97.5,881.3h6.5 M723.5,881.3h-6.5 M97.5,823.8h6.5 M723.5,823.8h-6.5" stroke="#262626" stroke-width="1.3" fill="none"/>
<text x="163.6" y="1331" text-anchor="middle" class="tk">100</text>
<text x="295.1" y="1331" text-anchor="middle" class="tk">120</text>
<text x="426.6" y="1331" text-anchor="middle" class="tk">140</text>
<text x="558.1" y="1331" text-anchor="middle" class="tk">160</text>
<text x="689.6" y="1331" text-anchor="middle" class="tk">180</text>
<text x="88" y="1293.9" text-anchor="end" class="tk">0</text>
<text x="88" y="1236.3" text-anchor="end" class="tk">500</text>
<text x="88" y="1178.8" text-anchor="end" class="tk">1000</text>
<text x="88" y="1121.2" text-anchor="end" class="tk">1500</text>
<text x="88" y="1063.6" text-anchor="end" class="tk">2000</text>
<text x="88" y="1006.1" text-anchor="end" class="tk">2500</text>
<text x="88" y="948.5" text-anchor="end" class="tk">3000</text>
<text x="88" y="890.9" text-anchor="end" class="tk">3500</text>
<text x="88" y="833.4" text-anchor="end" class="tk">4000</text>
<text x="410.5" y="1365.8" text-anchor="middle" class="al">Profile distance (pixels)</text>
<text transform="translate(23 1054) rotate(-90)" x="0" y="0" text-anchor="middle" class="al">CT number (HU)</text>
<rect x="556" y="827.4" width="152.4" height="61" fill="#fff" stroke="#262626" stroke-width="1.3"/>
<line x1="562" y1="844" x2="619.7" y2="844" stroke="#0000ff" stroke-width="4.8"/>
<line x1="562" y1="872.2" x2="619.7" y2="872.2" stroke="#ff00ff" stroke-width="4.8" stroke-dasharray="17.3 17.3"/>
<text x="624.6" y="852.8" class="lg"><tspan font-style="italic">&#945;</tspan> =0.75</text>
<text x="624.6" y="880.5" class="lg"><tspan font-style="italic">&#945;</tspan> =0</text>
<clipPath id="clipd"><rect x="906.5" y="818.1" width="618.8" height="478.3"/></clipPath>
<line x1="906.5" y1="1249" x2="1525.3" y2="1249" stroke="#000" stroke-width="5"/>
<g clip-path="url(#clipd)">
<polyline points="975.5,1244.2 1085.4,1244.2 1099.2,1029.8 1154.1,1029.8 1167.9,1197.3 1428.9,1198.7 1442.7,1249 1456.4,1249" fill="none" stroke="#0000ff" stroke-width="4.8" stroke-linejoin="round"/>
<polyline points="975.5,1232.7 1071.7,1234.6 1085.4,832.6 1099.2,934.1 1140.4,934.1 1154.1,920.7 1167.9,1194 1428.9,1195.4 1442.7,1249" fill="none" stroke="#ff00ff" stroke-width="4.8" stroke-linejoin="round" stroke-dasharray="17.3 17.3"/>
</g>
<rect x="906.5" y="818.1" width="618.8" height="478.3" fill="none" stroke="#262626" stroke-width="1.3"/>
<path d="M975.5,1296.4v-6.5 M975.5,818.1v6.5 M1112.9,1296.4v-6.5 M1112.9,818.1v6.5 M1250.3,1296.4v-6.5 M1250.3,818.1v6.5 M1387.7,1296.4v-6.5 M1387.7,818.1v6.5 M1525.1,1296.4v-6.5 M1525.1,818.1v6.5 M906.5,1249h6.5 M1525.3,1249h-6.5 M906.5,1153.3h6.5 M1525.3,1153.3h-6.5 M906.5,1057.6h6.5 M1525.3,1057.6h-6.5 M906.5,961.8h6.5 M1525.3,961.8h-6.5 M906.5,866.1h6.5 M1525.3,866.1h-6.5" stroke="#262626" stroke-width="1.3" fill="none"/>
<text x="975.5" y="1331" text-anchor="middle" class="tk">190</text>
<text x="1112.9" y="1331" text-anchor="middle" class="tk">200</text>
<text x="1250.3" y="1331" text-anchor="middle" class="tk">210</text>
<text x="1387.7" y="1331" text-anchor="middle" class="tk">220</text>
<text x="1525.1" y="1331" text-anchor="middle" class="tk">230</text>
<text x="897" y="1258.6" text-anchor="end" class="tk">0</text>
<text x="897" y="1162.9" text-anchor="end" class="tk">200</text>
<text x="897" y="1067.2" text-anchor="end" class="tk">400</text>
<text x="897" y="971.4" text-anchor="end" class="tk">600</text>
<text x="897" y="875.7" text-anchor="end" class="tk">800</text>
<text x="1215.9" y="1365.8" text-anchor="middle" class="al">Profile distance (pixels)</text>
<text transform="translate(846 1057.2) rotate(-90)" x="0" y="0" text-anchor="middle" class="al">CT number (HU)</text>
<rect x="1360.5" y="833" width="150.3" height="60.7" fill="#fff" stroke="#262626" stroke-width="1.3"/>
<line x1="1366.5" y1="849.6" x2="1424.2" y2="849.6" stroke="#0000ff" stroke-width="4.8"/>
<line x1="1366.5" y1="877.8" x2="1424.2" y2="877.8" stroke="#ff00ff" stroke-width="4.8" stroke-dasharray="17.3 17.3"/>
<text x="1429.1" y="858.4" class="lg"><tspan font-style="italic">&#945;</tspan> =0.75</text>
<text x="1429.1" y="886.1" class="lg"><tspan font-style="italic">&#945;</tspan> =0</text>
<text x="356" y="1436.5" text-anchor="middle" class="cap">(c)</text>
<text x="1179.2" y="1436.5" text-anchor="middle" class="cap">(d)</text>
</svg>
</body></html>
